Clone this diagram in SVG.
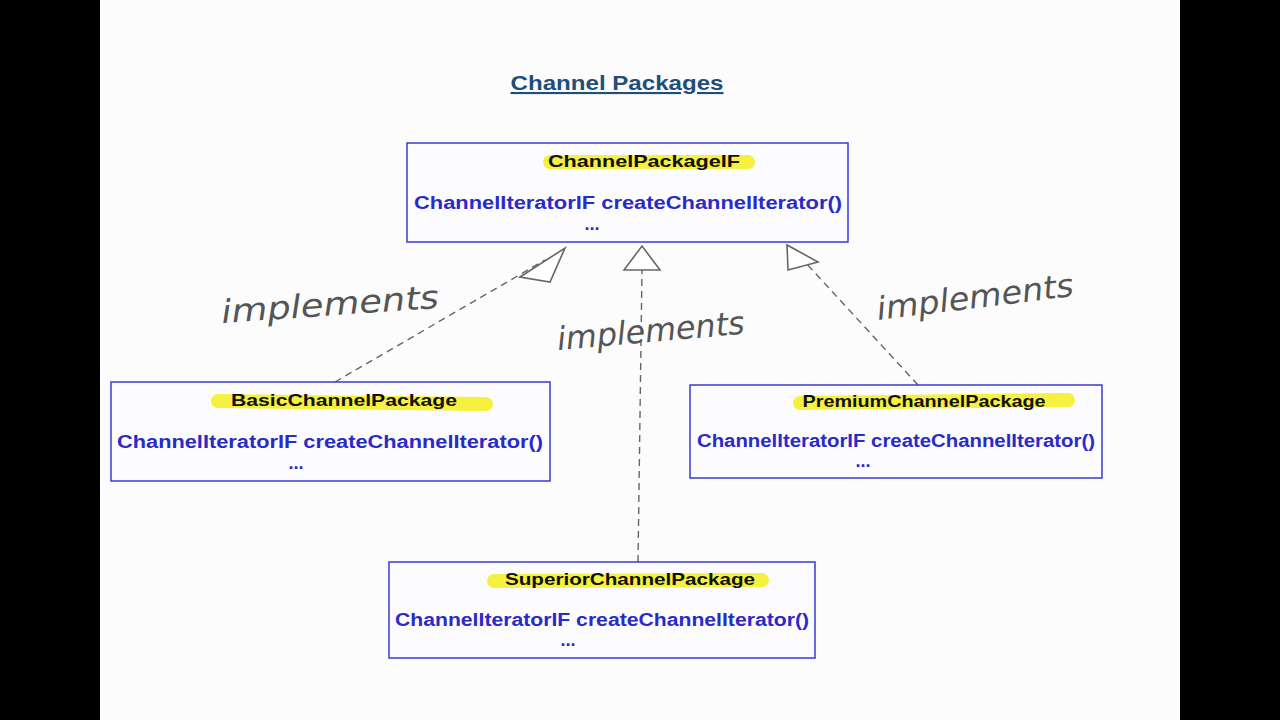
<svg xmlns="http://www.w3.org/2000/svg" width="1280" height="720" viewBox="0 0 1280 720">
<style>
.box{fill:#fcfcff;stroke:#3a3ad0;stroke-width:1.5}
.nm{font-family:"Liberation Sans",Arial,sans-serif;font-weight:bold;font-size:17px;fill:#111;text-anchor:middle}
.op{font-family:"Liberation Sans",Arial,sans-serif;font-weight:bold;font-size:18px;fill:#2a2ac8;text-anchor:middle}
.hl{stroke:#f5f02a;stroke-width:14;stroke-linecap:round;opacity:0.9}
.dash{fill:none;stroke:#666;stroke-width:1.4;stroke-dasharray:7 5}
.tri{fill:#fff;stroke:#666;stroke-width:1.6}
.hw{font-family:"DejaVu Sans",sans-serif;font-style:italic;font-size:32px;fill:#555;font-weight:200}
</style>
<rect width="1280" height="720" fill="#000"/>
<rect x="100" y="0" width="1080" height="720" fill="#fcfcfd"/>
<text x="617" y="90" font-family="Liberation Sans,Arial,sans-serif" font-weight="bold" font-size="21" fill="#1f4e79" text-anchor="middle" text-decoration="underline" textLength="213" lengthAdjust="spacingAndGlyphs">Channel  Packages</text>
<g id="connectors">
<path class="dash" d="M335,382 L545,260"/>
<path class="tri" d="M520,277 L565,248 L550,282 Z"/>
<path class="dash" d="M638,562 L642,270"/>
<path class="tri" d="M624,270 L642,246 L660,270 Z"/>
<path class="dash" d="M918,385 L805,262"/>
<path class="tri" d="M788,270 L787,245 L818,262 Z"/>
<text class="hw" x="222" y="323" transform="rotate(-4 222 323)" textLength="218" lengthAdjust="spacingAndGlyphs">implements</text>
<text class="hw" x="558" y="350" transform="rotate(-5 558 350)" textLength="188" lengthAdjust="spacingAndGlyphs">implements</text>
<text class="hw" x="878" y="320" transform="rotate(-7 878 320)" textLength="198" lengthAdjust="spacingAndGlyphs">implements</text>
</g>
<g id="ChannelPackageIF">
<rect class="box" x="407" y="143" width="441" height="99"/>
<line class="hl" x1="550" y1="162" x2="748" y2="162"/>
<text class="nm" x="644" y="167" textLength="192" lengthAdjust="spacingAndGlyphs">ChannelPackageIF</text>
<text class="op" x="628" y="209" textLength="428" lengthAdjust="spacingAndGlyphs">ChannelIteratorIF  createChannelIterator()</text>
<text class="op" x="592" y="230">...</text>
</g>
<g id="BasicChannelPackage">
<rect class="box" x="111" y="382" width="439" height="99"/>
<line class="hl" x1="218" y1="401" x2="486" y2="404"/>
<text class="nm" x="344" y="406" textLength="226" lengthAdjust="spacingAndGlyphs">BasicChannelPackage</text>
<text class="op" x="330" y="448" textLength="426" lengthAdjust="spacingAndGlyphs">ChannelIteratorIF  createChannelIterator()</text>
<text class="op" x="296" y="469">...</text>
</g>
<g id="PremiumChannelPackage">
<rect class="box" x="690" y="385" width="412" height="93"/>
<line class="hl" x1="800" y1="403" x2="1068" y2="400"/>
<text class="nm" x="924" y="407" textLength="243" lengthAdjust="spacingAndGlyphs">PremiumChannelPackage</text>
<text class="op" x="896" y="447" textLength="398" lengthAdjust="spacingAndGlyphs">ChannelIteratorIF  createChannelIterator()</text>
<text class="op" x="863" y="467">...</text>
</g>
<g id="SuperiorChannelPackage">
<rect class="box" x="389" y="562" width="426" height="96"/>
<line class="hl" x1="494" y1="581" x2="762" y2="580"/>
<text class="nm" x="630" y="585" textLength="250" lengthAdjust="spacingAndGlyphs">SuperiorChannelPackage</text>
<text class="op" x="602" y="626" textLength="414" lengthAdjust="spacingAndGlyphs">ChannelIteratorIF  createChannelIterator()</text>
<text class="op" x="568" y="646">...</text>
</g>
</svg>
